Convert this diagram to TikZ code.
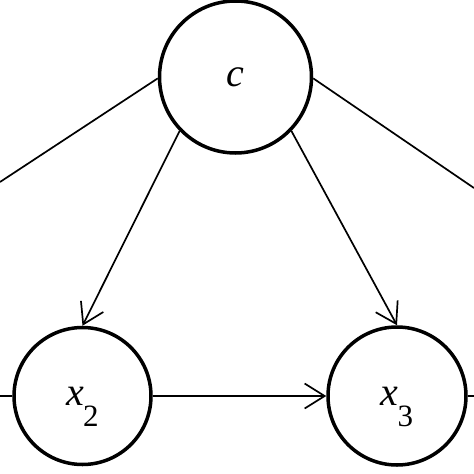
\documentclass[tikz,border=0pt]{standalone}
\usepackage{fontspec}
\setmainfont{Liberation Serif}
\usetikzlibrary{arrows.meta}
\newcommand\mysub[1]{\raisebox{-21pt}[0pt][0pt]{\fontsize{31}{33}\selectfont\upshape #1}}
\begin{document}
\begin{tikzpicture}[x=1pt,y=-1pt,
  var/.style={circle,draw,line width=3.5pt,inner sep=0pt,font=\fontsize{40}{42}\selectfont\itshape},
  link/.style={line width=1.7pt},
  arr/.style={link,-{Straight Barb[length=20pt,width=25pt,line width=1.7pt]}}]
\useasboundingbox (0,0) rectangle (474,474);
\node[var,minimum size=152pt] (c) at (235.5,77) {c};
\node[var,minimum size=137pt] (x2) at (82.5,396) {x\kern-1pt\mysub{2}};
\node[var,minimum size=138pt] (x3) at (397,396) {x\kern-1pt\mysub{3}};
\coordinate (cl) at (0,182);
\coordinate (cr) at (474,188);
\coordinate (L) at (0,0);
\coordinate (R) at (474,0);
\draw[link] (c.181) -- (cl);
\draw[link] (c.-1) -- (cr);
\draw[arr] (c.224) -- (x2.north);
\draw[arr] (c.316) -- (x3.north);
\draw[arr] (x2.east) -- (x3.west);
\draw[link] (x2.west) -- (x2.west -| L);
\draw[link] (x3.east) -- (x3.east -| R);
\end{tikzpicture}
\end{document}
